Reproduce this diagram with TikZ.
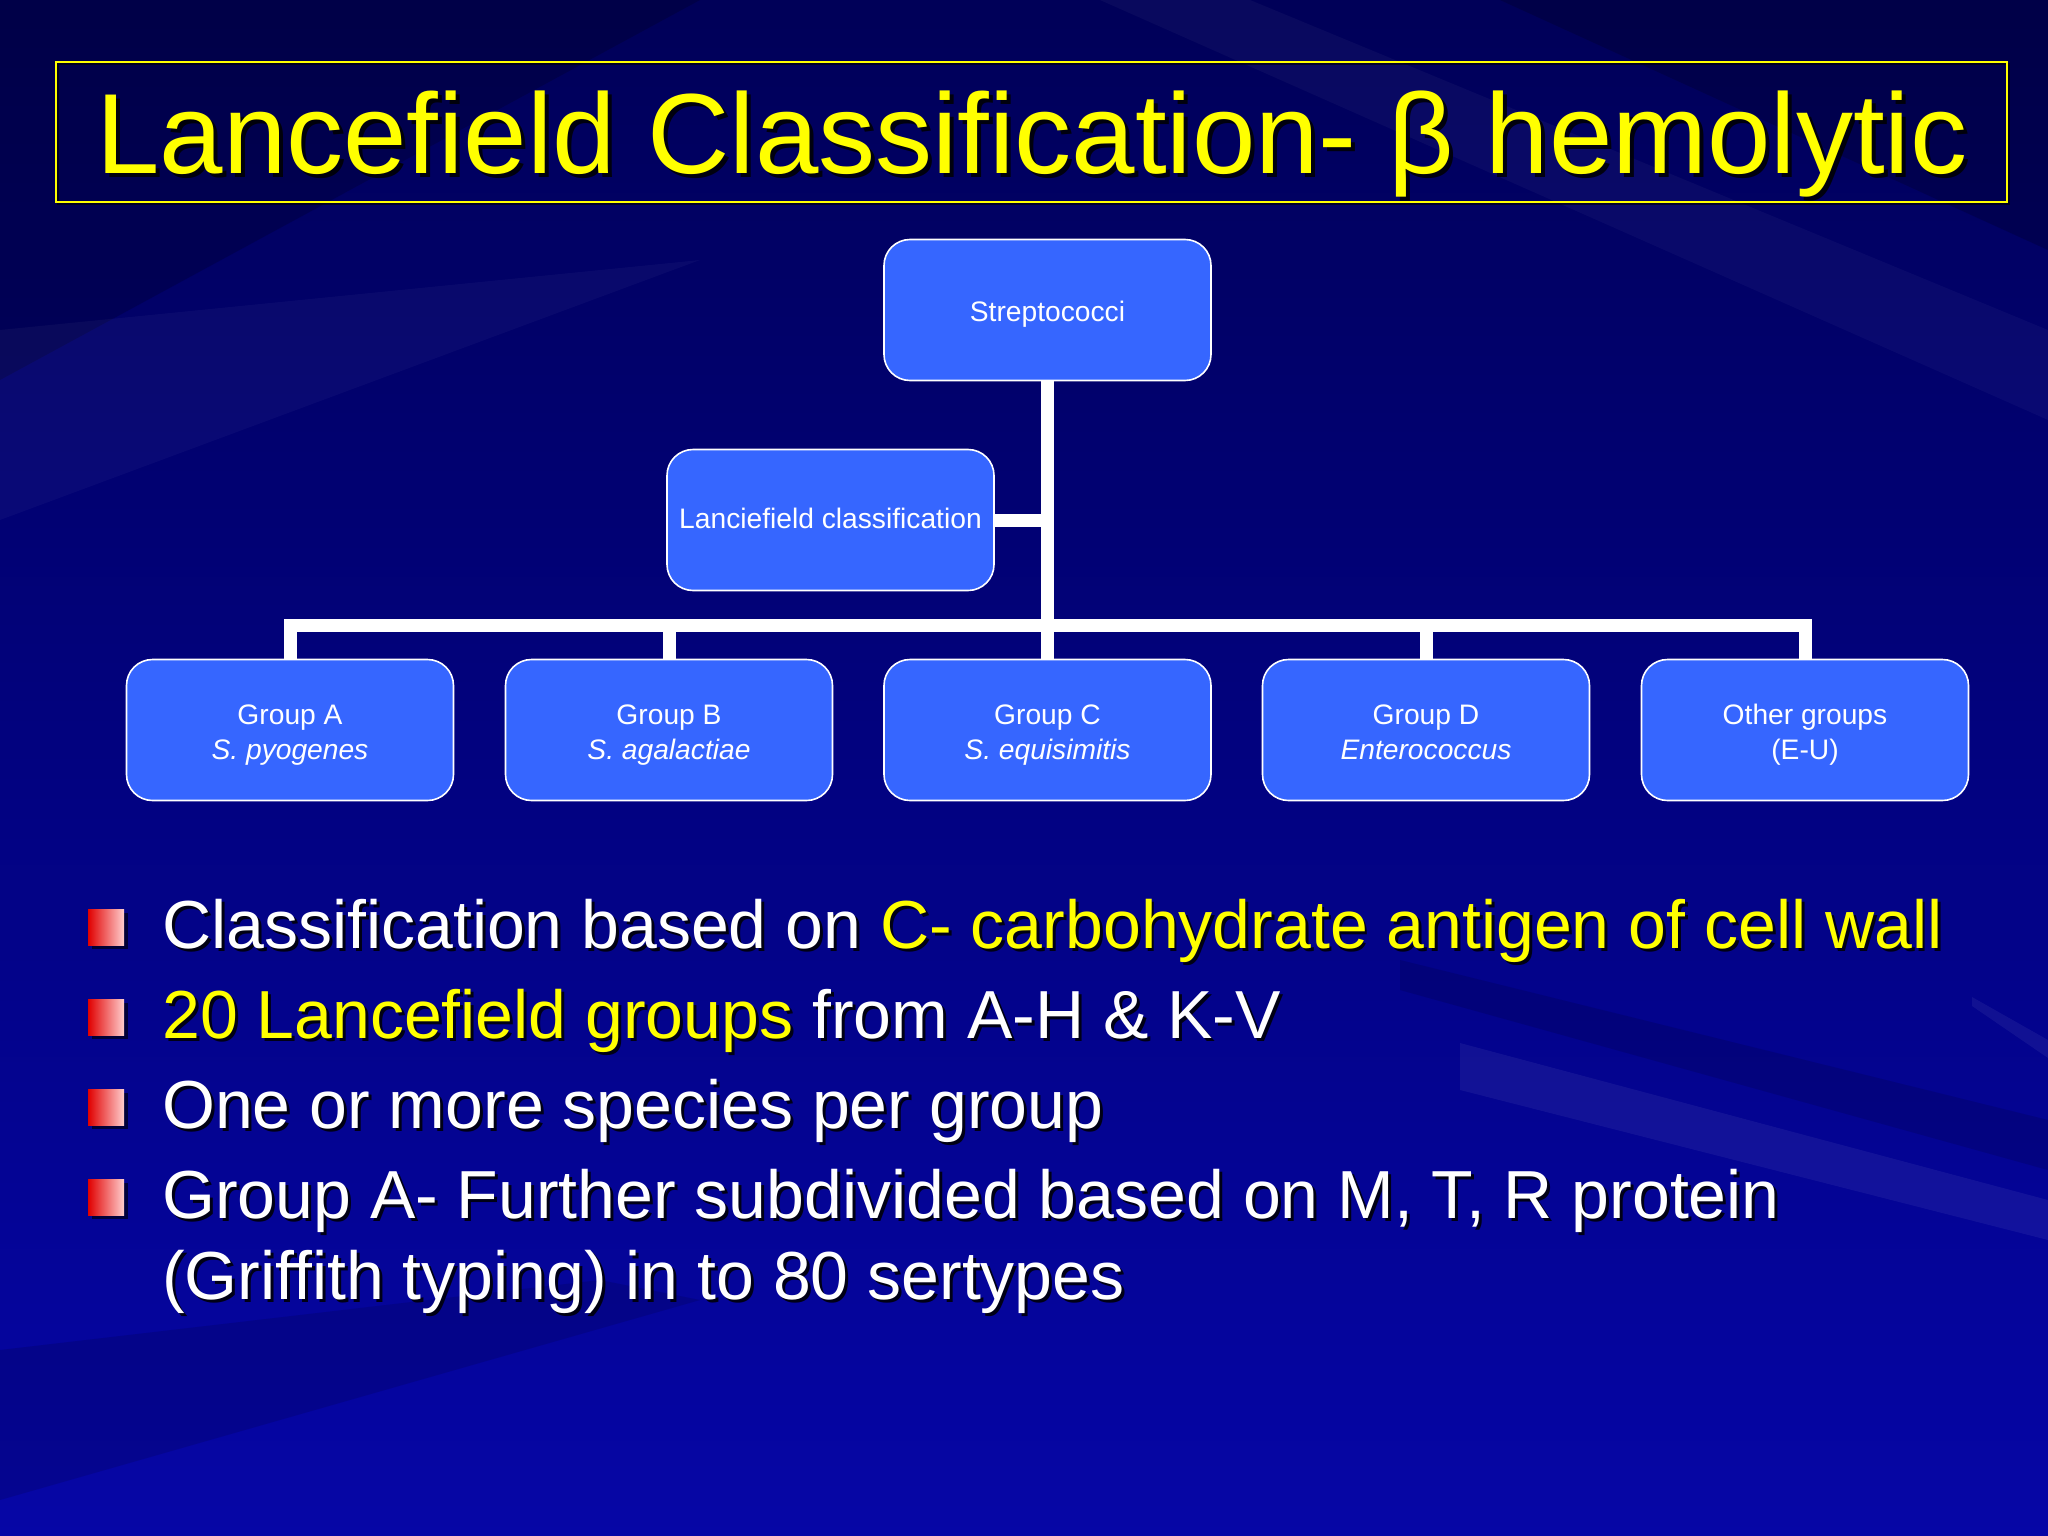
\documentclass[tikz,border=0pt]{standalone}
\usepackage{fontspec}
\setmainfont{Liberation Sans}
\definecolor{boxblue}{RGB}{54,102,255}
\definecolor{ttlyellow}{RGB}{255,255,0}
\definecolor{bgtop}{RGB}{0,0,88}
\definecolor{bgmid}{RGB}{2,2,128}
\definecolor{bgbot}{RGB}{6,6,166}
\definecolor{bulred}{RGB}{225,0,0}
\definecolor{bulpink}{RGB}{255,205,205}
\newcommand{\boxtext}[2][5pt]{\raisebox{-#1}[\height][\depth]{\begin{tabular}{@{}c@{}}#2\end{tabular}}}
\begin{document}
\begin{tikzpicture}[x=1pt,y=-1pt,
  orgbox/.style={draw=white, line width=1.6pt, fill=boxblue, rounded corners=26pt,
    minimum width=327pt, minimum height=141pt, inner sep=0pt, text=white,
    font=\fontsize{28.2}{35}\selectfont},
  conn/.style={draw=white, line width=13pt},
  bultxt/.style={anchor=base west, inner sep=0pt, text=white,
    font=\fontsize{68}{82}\selectfont},
  ttltxt/.style={anchor=base, inner sep=0pt, text=ttlyellow,
    font=\fontsize{114}{130}\selectfont},
  shadowtxt/.style={text=black, opacity=0.85},
  streak/.style={fill=white, opacity=0.035},
  darkstreak/.style={fill=black, opacity=0.18}
]
% background
\useasboundingbox (0,0) rectangle (2048,1536);
\shade[top color=bgtop, bottom color=bgbot, middle color=bgmid] (0,0) rectangle (2048,1536);
\fill[darkstreak] (0,0) -- (700,0) -- (0,380) -- cycle;
\fill[streak] (0,330) -- (700,260) -- (0,520) -- cycle;
\fill[streak] (1100,0) -- (1250,0) -- (2048,330) -- (2048,420) -- cycle;
\fill[darkstreak] (1500,0) -- (2048,0) -- (2048,250) -- cycle;
\fill[streak, opacity=0.06] (1460,1043) -- (2048,1200) -- (2048,1240) -- (1460,1090) -- cycle;
\fill[streak, opacity=0.06] (1972,997) -- (2048,1040) -- (2048,1058) -- (1972,1006) -- cycle;
\fill[darkstreak, opacity=0.12] (1400,960) -- (2048,1120) -- (2048,1170) -- (1400,990) -- cycle;
\fill[darkstreak, opacity=0.12] (0,1350) -- (600,1280) -- (700,1300) -- (0,1500) -- cycle;

% title
\node[draw=black, opacity=0.6, line width=2pt, minimum width=1951pt, minimum height=140pt, inner sep=0pt] (titleshadow) at (1033.5,134) {};
\node[draw=ttlyellow, line width=2pt, minimum width=1951pt, minimum height=140pt, inner sep=0pt] (titlebox) at (1031.5,132) {};
\node[ttltxt, shadowtxt] (titletxtsh) at (1036,178) {Lancefield Classification- β hemolytic};
\node[ttltxt] (titletxt) at (1032,174) {Lancefield Classification- β hemolytic};

% org chart boxes
\node[orgbox] (strep) at (1047.5,310) {\boxtext[4pt]{Streptococci}};
\node[orgbox] (lanc) at (830.5,520) {\boxtext[1pt]{Lanciefield classification}};
\node[orgbox] (grpA) at (290,730) {\boxtext{Group A\\\textit{S. pyogenes}}};
\node[orgbox] (grpB) at (669,730) {\boxtext{Group B\\\textit{S. agalactiae}}};
\node[orgbox] (grpC) at (1047.5,730) {\boxtext{Group C\\\textit{S. equisimitis}}};
\node[orgbox] (grpD) at (1426,730) {\boxtext{Group D\\\textit{Enterococcus}}};
\node[orgbox] (other) at (1805,730) {\boxtext{Other groups\\(E-U)}};

% connectors
\coordinate (bar) at (1047.5,625);
\draw[conn] (strep.south) -- (bar);
\draw[conn] (lanc.east) -- (lanc.east -| strep.south);
\draw[conn] (grpA.north) -- (grpA.north |- bar) -- (other.north |- bar) -- (other.north);
\draw[conn] (grpB.north) -- (grpB.north |- bar);
\draw[conn] (grpC.north) -- (bar);
\draw[conn] (grpD.north) -- (grpD.north |- bar);

% bullets
\foreach \yy in {909,999,1089,1179}{
  \fill[black, opacity=0.6] (92,\yy+4) rectangle (128,\yy+40);
  \shade[left color=bulred, right color=bulpink] (88,\yy) rectangle (124,\yy+36);
}
\node[bultxt, shadowtxt] (b1s) at (165,951) {Classification based on C- carbohydrate antigen of cell wall};
\node[bultxt] (b1) at (162,948) {Classification based on \textcolor{ttlyellow}{C- carbohydrate antigen of cell wall}};
\node[bultxt, shadowtxt] (b2s) at (165,1041) {20 Lancefield groups from A-H \& K-V};
\node[bultxt] (b2) at (162,1038) {\textcolor{ttlyellow}{20 Lancefield groups} from A-H \& K-V};
\node[bultxt, shadowtxt] (b3s) at (165,1131) {One or more species per group};
\node[bultxt] (b3) at (162,1128) {One or more species per group};
\node[bultxt, shadowtxt] (b4s) at (165,1221) {Group A- Further subdivided based on M, T, R protein};
\node[bultxt] (b4) at (162,1218) {Group A- Further subdivided based on M, T, R protein};
\node[bultxt, shadowtxt] (b4bs) at (165,1302) {(Griffith typing) in to 80 sertypes};
\node[bultxt] (b4b) at (162,1299) {(Griffith typing) in to 80 sertypes};
\end{tikzpicture}
\end{document}
